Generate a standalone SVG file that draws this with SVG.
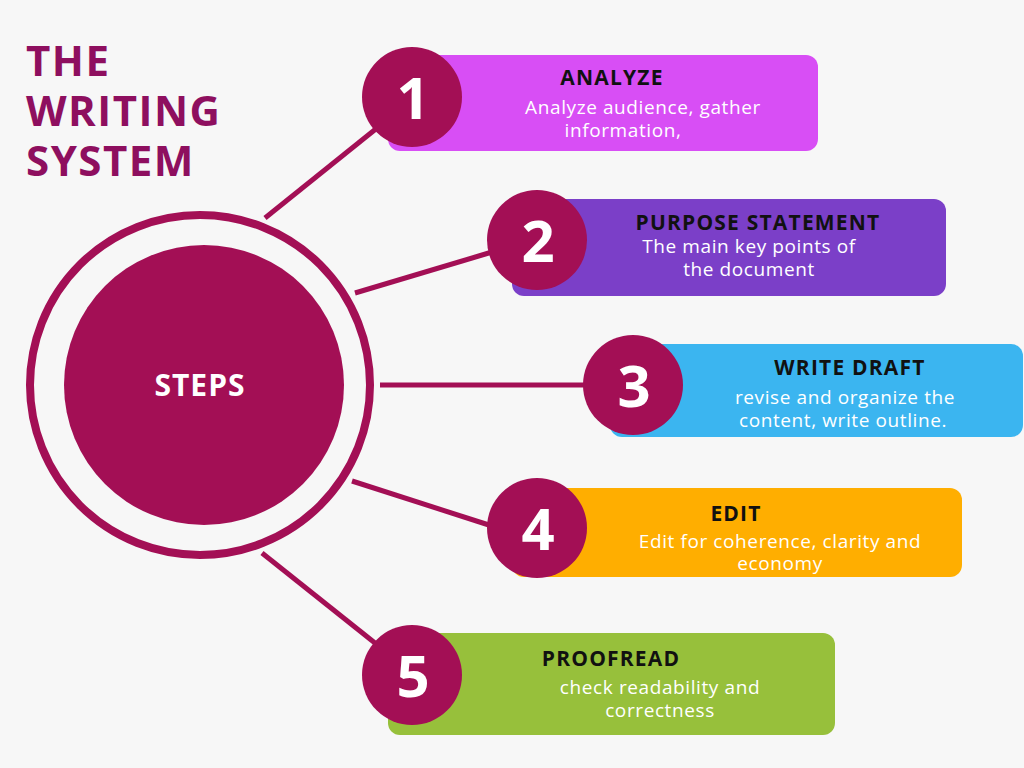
<svg xmlns="http://www.w3.org/2000/svg" width="1024" height="768" viewBox="0 0 1024 768">
<style>
.t{font-family:"Open Sans","Noto Sans",sans-serif;font-weight:bold;fill:#8e0f5f;font-size:42px;letter-spacing:1.5px}
.h{font-family:"Open Sans","Noto Sans",sans-serif;font-weight:bold;fill:#111;font-size:21px;letter-spacing:1.2px;text-anchor:middle}
.d{font-family:"Open Sans","Noto Sans",sans-serif;fill:#fff;font-size:19px;letter-spacing:0.6px;text-anchor:middle}
.n{font-family:"Open Sans","Noto Sans",sans-serif;font-weight:bold;fill:#fff;font-size:58px;text-anchor:middle}
.c{fill:#a30f55}
.l{stroke:#a30f55;stroke-width:5}
</style>
<rect width="1024" height="768" fill="#f7f7f7"/>
<text class="t" x="26" y="76">THE</text>
<text class="t" x="26" y="126">WRITING</text>
<text class="t" x="26" y="176">SYSTEM</text>
<g id="connectors">
<line class="l" x1="265" y1="218" x2="382" y2="124"/>
<line class="l" x1="355" y1="293" x2="492" y2="252"/>
<line class="l" x1="380" y1="385" x2="585" y2="385"/>
<line class="l" x1="352" y1="481" x2="492" y2="526"/>
<line class="l" x1="262" y1="553" x2="380" y2="647"/>
</g>
<g id="center">
<circle cx="200" cy="385" r="170" fill="none" stroke="#a30f55" stroke-width="8"/>
<circle class="c" cx="204" cy="385" r="140"/>
<text x="200" y="396" font-family="Open Sans,Noto Sans,sans-serif" font-weight="bold" font-size="30" letter-spacing="1" fill="#fff" text-anchor="middle">STEPS</text>
</g>
<g id="step1">
<rect x="388" y="55" width="430" height="96" rx="12" fill="#d84ef5"/>
<circle class="c" cx="412" cy="97" r="50"/>
<text class="n" x="413" y="119">1</text>
<text class="h" x="612" y="85">ANALYZE</text>
<text class="d" x="643" y="114">Analyze audience, gather</text>
<text class="d" x="623" y="137">information,</text>
</g>
<g id="step2">
<rect x="512" y="199" width="434" height="97" rx="12" fill="#7b3fc8"/>
<circle class="c" cx="537" cy="240" r="50"/>
<text class="n" x="538" y="262">2</text>
<text class="h" x="758" y="230">PURPOSE STATEMENT</text>
<text class="d" x="749" y="253">The main key points of</text>
<text class="d" x="749" y="276">the document</text>
</g>
<g id="step3">
<rect x="610" y="344" width="413" height="93" rx="12" fill="#3bb5f0"/>
<circle class="c" cx="633" cy="385" r="50"/>
<text class="n" x="634" y="407">3</text>
<text class="h" x="850" y="375">WRITE DRAFT</text>
<text class="d" x="845" y="404">revise and organize the</text>
<text class="d" x="843" y="427">content, write outline.</text>
</g>
<g id="step4">
<rect x="512" y="488" width="450" height="89" rx="12" fill="#ffae00"/>
<circle class="c" cx="537" cy="528" r="50"/>
<text class="n" x="538" y="550">4</text>
<text class="h" x="736" y="521">EDIT</text>
<text class="d" x="780" y="548">Edit for coherence, clarity and</text>
<text class="d" x="780" y="570">economy</text>
</g>
<g id="step5">
<rect x="388" y="633" width="447" height="102" rx="12" fill="#97c03b"/>
<circle class="c" cx="412" cy="675" r="50"/>
<text class="n" x="413" y="697">5</text>
<text class="h" x="611" y="666">PROOFREAD</text>
<text class="d" x="660" y="694">check readability and</text>
<text class="d" x="660" y="717">correctness</text>
</g>
</svg>
